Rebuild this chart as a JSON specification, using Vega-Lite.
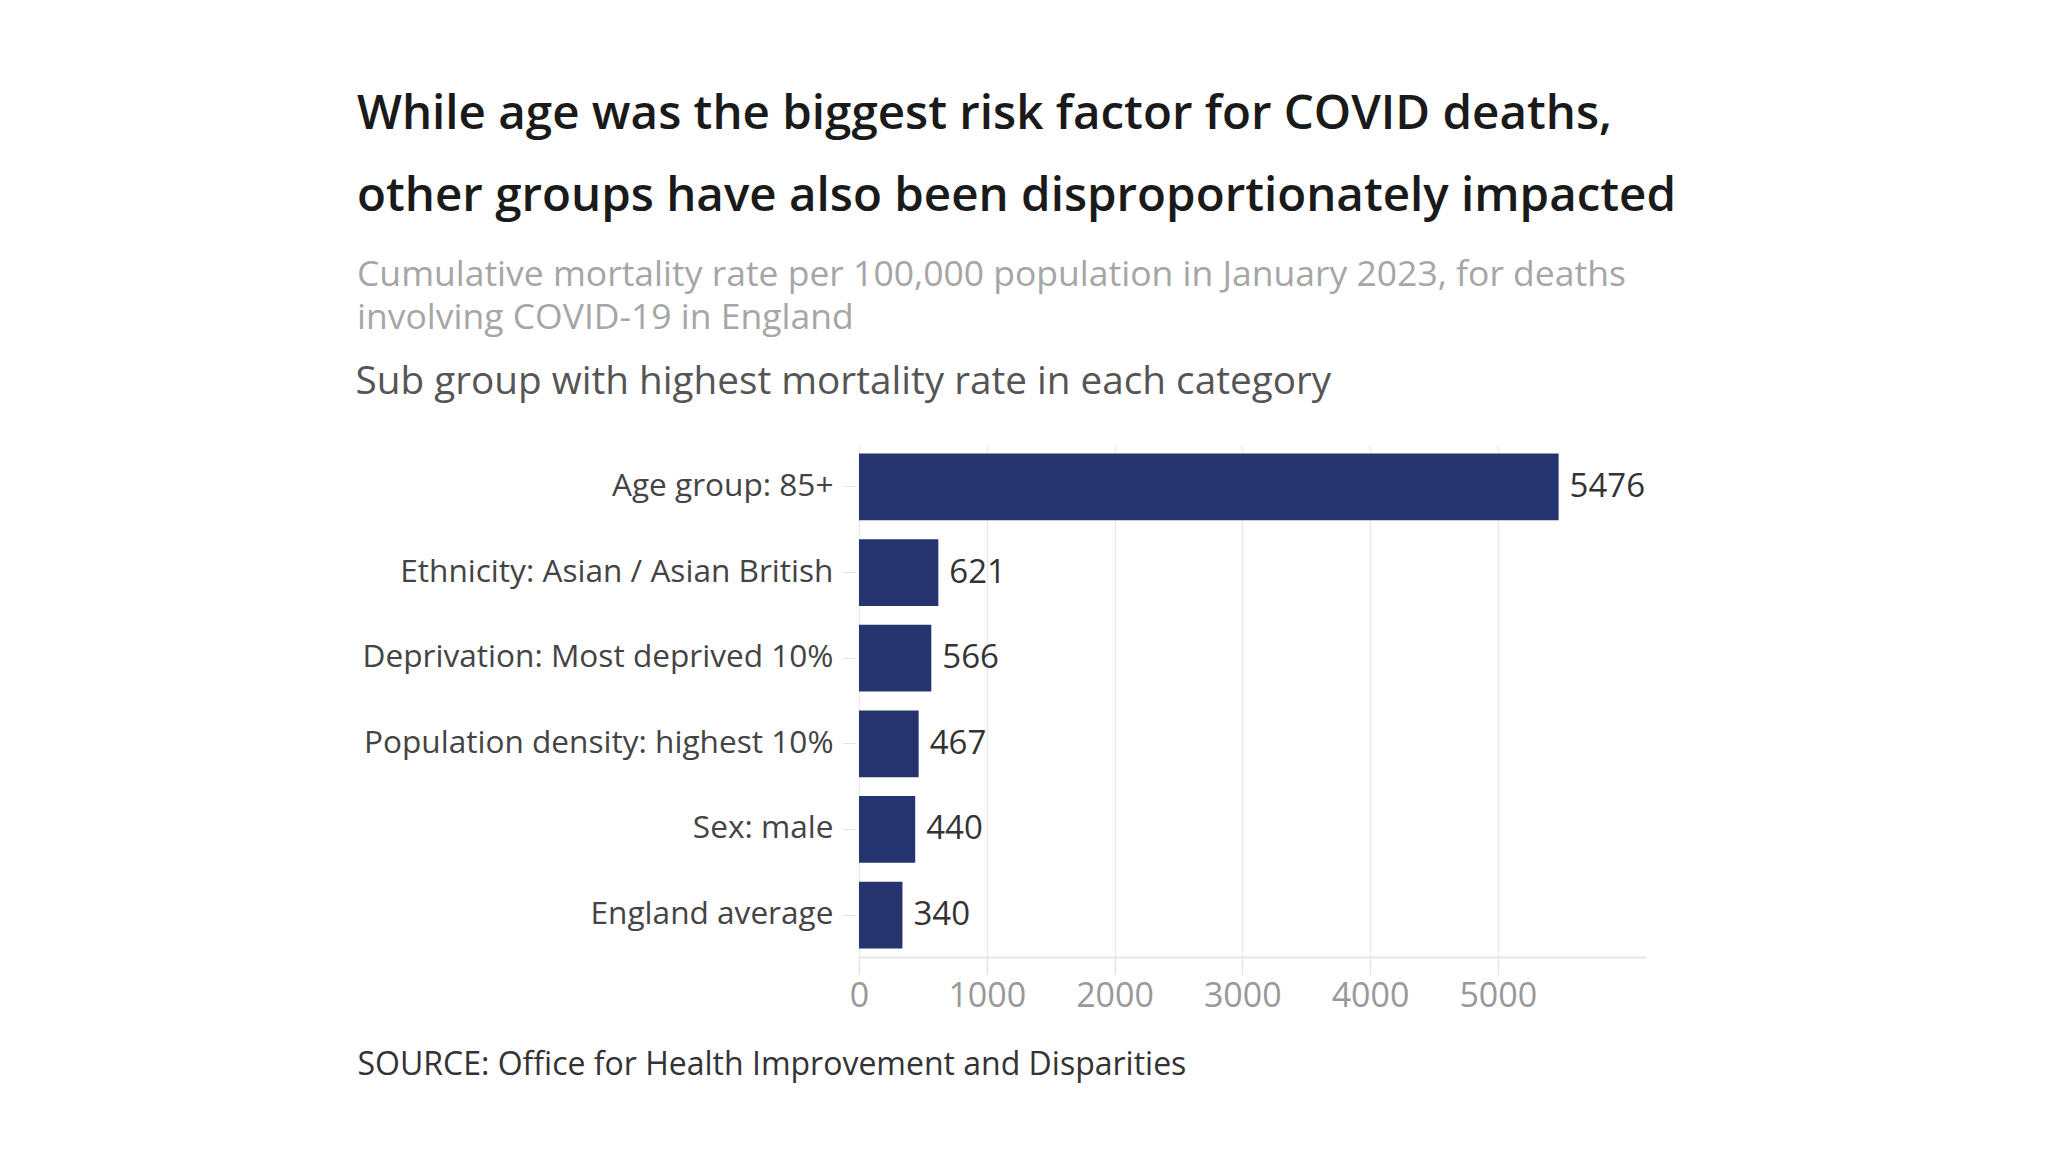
{
  "$schema": "https://vega.github.io/schema/vega-lite/v6.json",
  "autosize": "none",
  "width": 787,
  "height": 512,
  "padding": {"left": 859, "top": 445, "right": 402, "bottom": 195},
  "background": "#ffffff",
  "config": {
    "font": "Open Sans",
    "view": {"stroke": null}
  },
  "title": {
    "text": ["While age was the biggest risk factor for COVID deaths,", "other groups have also been disproportionately impacted"],
    "subtitle": ["Cumulative mortality rate per 100,000 population in January 2023, for deaths", "involving COVID-19 in England"],
    "anchor": "start",
    "frame": "group",
    "dx": -502,
    "fontSize": 47.5,
    "fontWeight": 600,
    "color": "#1a1a1a",
    "lineHeight": 82,
    "subtitleFontSize": 35.5,
    "subtitleColor": "#a6a6a6",
    "subtitleLineHeight": 43,
    "subtitlePadding": 37,
    "offset": 26
  },
  "data": {
    "values": [
      {"group": "Age group: 85+", "rate": 5476},
      {"group": "Ethnicity: Asian / Asian British", "rate": 621},
      {"group": "Deprivation: Most deprived 10%", "rate": 566},
      {"group": "Population density: highest 10%", "rate": 467},
      {"group": "Sex: male", "rate": 440},
      {"group": "England average", "rate": 340}
    ]
  },
  "encoding": {
    "y": {
      "field": "group",
      "type": "nominal",
      "sort": ["Age group: 85+", "Ethnicity: Asian / Asian British", "Deprivation: Most deprived 10%", "Population density: highest 10%", "Sex: male", "England average"],
      "scale": {"paddingInner": 0.22, "paddingOuter": 0.1},
      "axis": {
        "title": "Sub group with highest mortality rate in each category",
        "titleAngle": 0,
        "titleX": -500,
        "titleY": -64,
        "titleAlign": "left",
        "titleBaseline": "middle",
        "titleFontSize": 38.7,
        "titleFontWeight": "normal",
        "titleColor": "#555555",
        "domain": false,
        "ticks": true,
        "tickColor": "#e3e3e3",
        "tickSize": 12,
        "offset": 4,
        "labelPadding": 10,
        "labelFontSize": 31.6,
        "labelColor": "#444444",
        "labelLimit": 600
      }
    },
    "x": {
      "field": "rate",
      "type": "quantitative",
      "scale": {"domain": [0, 6160], "nice": false},
      "axis": {
        "values": [0, 1000, 2000, 3000, 4000, 5000],
        "format": "d",
        "title": "SOURCE: Office for Health Improvement and Disparities",
        "titleX": -502,
        "titleY": 107,
        "titleAlign": "left",
        "titleBaseline": "middle",
        "titleFontSize": 32,
        "titleFontWeight": "normal",
        "titleColor": "#333333",
        "grid": true,
        "gridColor": "#ebebeb",
        "gridWidth": 1.5,
        "domainColor": "#e6e6e6",
        "domainWidth": 2,
        "tickColor": "#e6e6e6",
        "tickWidth": 1.5,
        "tickSize": 18,
        "labelPadding": 4,
        "labelFontSize": 34,
        "labelColor": "#999999",
        "labelFlush": false
      }
    }
  },
  "layer": [
    {"mark": {"type": "bar", "color": "#25346f"}},
    {
      "mark": {"type": "text", "align": "left", "baseline": "middle", "dx": 11, "fontSize": 33, "color": "#333333"},
      "encoding": {"text": {"field": "rate", "type": "quantitative", "format": "d"}}
    }
  ]
}
